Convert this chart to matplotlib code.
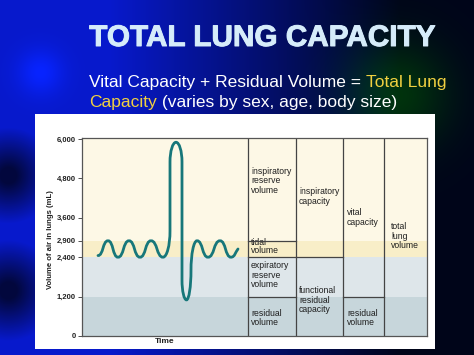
import matplotlib
matplotlib.use("Agg")
import matplotlib.pyplot as plt
from matplotlib.path import Path
from matplotlib.patches import PathPatch, Rectangle
import matplotlib.patheffects as pe
import numpy as np

plt.rcParams['font.family'] = ['Liberation Sans', 'DejaVu Sans']

# spirometer trace: key points (time, volume in mL) and the tangent there
# 'h' = horizontal (turning point), 'v' = vertical, 'c' = along the chord
trace_t = [16, 26, 36, 47, 58, 69, 81, 88, 88, 94, 100, 100, 104.5, 109, 115, 126, 138, 149, 156]
trace_v = [2450, 2900, 2400, 2900, 2400, 2900, 2400, 3200, 5300, 5900, 5300, 1700, 1100, 2000,
           2900, 2400, 2900, 2400, 2650]
trace_dir = ['h', 'h', 'h', 'h', 'h', 'h', 'h', 'v', 'v', 'h', 'v', 'v', 'h', 'v',
             'h', 'h', 'h', 'h', 'c']

yticks = [0, 1200, 2400, 2900, 3600, 4800, 6000]
ytick_labels = ["0", "1,200", "2,400", "2,900", "3,600", "4,800", "6,000"]

# volume bands (bottom, top) and their fills
bands = [(0, 1200), (1200, 2400), (2400, 2900), (2900, 6030)]
band_colors = ["#c7d6db", "#dee6ea", "#f8eec8", "#fdf8e6"]

# column boundaries on the right-hand side (time units)
col_edges = [166, 214, 261, 302, 345]
# horizontal dividers: (column index, volume)
dividers = [(0, 2900), (0, 2400), (0, 1200), (1, 2400), (2, 1200)]

# labels: (time, top volume, text, line spacing)
labels = [
    (169, 5150, "inspiratory\nreserve\nvolume", 1.05),
    (169, 2990, "tidal\nvolume", 0.85),
    (169, 2270, "expiratory\nreserve\nvolume", 1.05),
    (169, 830, "residual\nvolume", 1.05),
    (217, 4530, "inspiratory\ncapacity", 1.05),
    (217, 1510, "functional\nresidual\ncapacity", 1.05),
    (265, 3890, "vital\ncapacity", 1.05),
    (265, 830, "residual\nvolume", 1.05),
    (309, 3460, "total\nlung\nvolume", 1.05),
]

W, H = 474, 355
fig = plt.figure(figsize=(W / 100, H / 100), dpi=100)

# slide background
bg = fig.add_axes([0, 0, 1, 1])
yy, xx = np.mgrid[0:H, 0:W].astype(float)
s = np.clip((xx - 110) / 290, 0, 1)
r = 0.03 * (1 - s)
g = 0.10 * (1 - s) + 0.02 * s
b = 0.80 * (1 - s) + 0.10 * s
glow = np.exp(-((xx - 395) ** 2 + (yy - 95) ** 2) / (2 * 38 ** 2))
g = g + 0.18 * glow
b = b - 0.05 * glow
for cx, cy, rad in [(8, 175, 40), (8, 290, 42)]:
    d = np.sqrt((xx - cx) ** 2 + (yy - cy) ** 2) / rad
    dark = np.clip(1.2 - d, 0, 1)
    r, g, b = r * (1 - 0.7 * dark), g * (1 - 0.7 * dark), b * (1 - 0.7 * dark)
hl = np.exp(-((xx - 40) ** 2 + (yy - 72) ** 2) / (2 * 16 ** 2))
b = b + 0.2 * hl
g = g + 0.04 * hl
img = np.clip(np.dstack([r, g, b]), 0, 1)
bg.imshow(img, extent=[0, W, H, 0], aspect='auto', interpolation='bilinear')
bg.set_xlim(0, W)
bg.set_ylim(H, 0)
bg.axis('off')

# white panel
bg.add_patch(Rectangle((35, 114), 400, 235, facecolor='white', edgecolor='none'))

fig.text(262.5 / W, 1 - 38 / H, "TOTAL LUNG CAPACITY", ha='center', va='center',
         fontsize=21.4, fontweight='bold', color='#d6ecfa',
         path_effects=[pe.withStroke(linewidth=0.7, foreground='#d6ecfa')])

# subtitle with mixed colours
renderer = fig.canvas.get_renderer()
sub_fs = 12.5
yellow = '#f0d040'


def text_width(s):
    t = fig.text(0, 0, s, fontsize=sub_fs)
    w = t.get_window_extent(renderer).width
    t.remove()
    return w


def line(x, y, parts):
    for s, c in parts:
        fig.text(x / W, 1 - y / H, s, fontsize=sub_fs, color=c, va='center', ha='left')
        x += text_width(s + "|") - text_width("|")


line(89, 83, [("Vital Capacity + Residual Volume = ", 'white'), ("Total Lung", yellow)])
line(89, 102, [("Capacity", yellow), (" (varies by sex, age, body size)", 'white')])

# chart
ax = fig.add_axes([82 / W, 19 / H, 345 / W, 198 / H])
ax.set_xlim(0, 345)
ax.set_ylim(0, 6030)
for (lo, hi), c in zip(bands, band_colors):
    ax.axhspan(lo, hi, color=c, lw=0, zorder=0)

for x in col_edges[:-1]:
    ax.axvline(x, color='#444444', lw=0.9, zorder=2)
for ci, v in dividers:
    ax.plot([col_edges[ci], col_edges[ci + 1]], [v, v], color='#444444', lw=0.9, zorder=2)

for x, v, s, ls in labels:
    ax.text(x, v, s, fontsize=6.2, color='#1e1e1e', va='top', ha='left',
            linespacing=ls, zorder=1)

# smooth trace through the key points, with the given tangent at each
k = 0.55


def handle(i, j):
    dx = trace_t[j] - trace_t[i]
    dy = trace_v[j] - trace_v[i]
    d = trace_dir[i]
    if d == 'h':
        return (trace_t[i] + k * dx, trace_v[i])
    if d == 'v':
        return (trace_t[i], trace_v[i] + k * dy)
    return (trace_t[i] + 0.35 * dx, trace_v[i] + 0.35 * dy)


verts = [(trace_t[0], trace_v[0])]
codes = [Path.MOVETO]
for i in range(len(trace_t) - 1):
    verts += [handle(i, i + 1), handle(i + 1, i), (trace_t[i + 1], trace_v[i + 1])]
    codes += [Path.CURVE4] * 3
ax.add_patch(PathPatch(Path(verts, codes), facecolor='none', edgecolor='#17777a',
                       lw=2.0, zorder=3, capstyle='round'))

ax.set_yticks(yticks)
ax.set_yticklabels(ytick_labels, fontsize=5.5, fontweight='bold', color='#222222')
ax.set_xticks([])
ax.tick_params(axis='y', length=3, width=0.6, pad=1.5, color='#333333')
for sp in ax.spines.values():
    sp.set_color('#555555')
    sp.set_linewidth(0.9)

ax.set_ylabel("Volume of air in lungs (mL)", fontsize=5.6, fontweight='bold', color='#222222')
ax.yaxis.set_label_coords(-0.082, 0.485)
ax.set_xlabel("Time", fontsize=6, fontweight='bold', color='#222222')
ax.xaxis.set_label_coords(0.24, -0.012)

fig.savefig("out.png", dpi=100)
